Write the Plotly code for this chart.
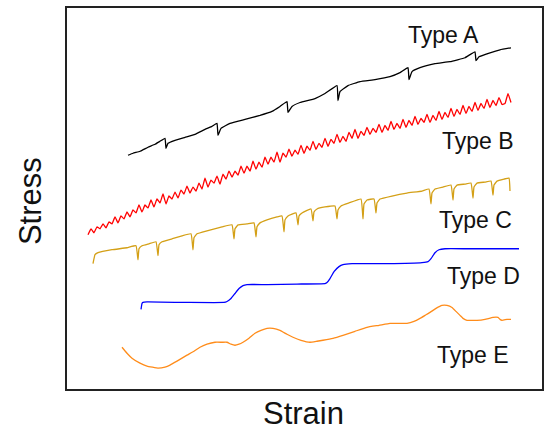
import plotly.graph_objects as go

# Schematic stress-strain curves (arbitrary units, no tick values on the figure)

# Type A - rising curve with occasional sharp drops
a_strain = [61, 66, 73, 81, 88, 93, 98, 99, 101, 108, 118, 128, 138, 145, 150, 151, 154, 163,
            178, 193, 205, 213, 220, 221, 225, 233, 248, 258, 270, 271, 273, 281, 293, 308,
            323, 333, 341, 342, 345, 353, 368, 383, 398, 408, 409, 412, 423, 433, 444]
a_stress = [235, 237, 239, 243, 246, 249, 252, 242, 247, 250, 253, 256, 261, 264, 267, 255, 262, 267,
            271, 275, 279, 284, 289, 278, 284, 288, 292, 297, 305, 290, 299, 305, 309, 311,
            314, 318, 323, 311, 319, 323, 327, 329, 333, 339, 330, 334, 338, 341, 343]

# Type B - dense zig-zag serrations
b_strain = [21, 24, 27, 30, 33, 36, 39, 42, 45, 48, 51, 54, 57, 60, 63, 66, 69, 72, 75, 78,
            81, 84, 87, 90, 93, 96, 99, 102, 105, 108, 111, 114, 117, 120, 123, 126, 129, 132, 135, 138,
            141, 144, 147, 150, 153, 156, 159, 162, 165, 168, 171, 174, 177, 180, 183, 186, 189, 192, 195, 198,
            201, 204, 207, 210, 213, 216, 219, 222, 225, 228, 231, 234, 237, 240, 243, 246, 249, 252, 255, 258,
            261, 264, 267, 270, 273, 276, 279, 282, 285, 288, 291, 294, 297, 300, 303, 306, 309, 312, 315, 318,
            321, 324, 327, 330, 333, 336, 339, 342, 345, 348, 351, 354, 357, 360, 363, 366, 369, 372, 375, 378,
            381, 384, 387, 390, 393, 396, 399, 402, 405, 408, 411, 414, 417, 420, 423, 426, 429, 432, 435, 438,
            441, 444]
b_stress = [155, 161, 157, 163, 161, 166, 162, 168, 166, 173, 167, 174, 171, 178, 173, 180, 177, 185, 178, 185,
            182, 190, 183, 191, 187, 196, 186, 194, 191, 198, 192, 200, 196, 204, 197, 203, 199, 207, 201, 212,
            203, 210, 207, 214, 206, 216, 211, 219, 213, 219, 215, 224, 217, 224, 219, 229, 221, 228, 223, 233,
            226, 233, 228, 238, 228, 237, 233, 241, 234, 240, 236, 245, 237, 244, 240, 249, 241, 247, 243, 252,
            244, 251, 247, 256, 248, 254, 249, 258, 252, 261, 252, 259, 255, 263, 256, 262, 258, 266, 258, 265,
            260, 269, 261, 267, 262, 271, 263, 270, 265, 274, 266, 272, 268, 276, 268, 275, 270, 279, 271, 278,
            273, 282, 274, 281, 276, 285, 277, 284, 279, 288, 280, 287, 282, 291, 283, 290, 285, 293, 286, 287,
            297, 288]

# Type C - smooth rise interrupted by downward spikes
c_strain = [26, 28, 31, 45, 60, 69, 71, 72, 75, 82, 89, 91, 92, 95, 105, 115, 124, 126, 127, 130,
            140, 155, 165, 167, 168, 171, 180, 187, 189, 190, 193, 200, 210, 215, 217, 218, 221, 229, 231, 232,
            235, 244, 246, 247, 250, 258, 268, 270, 271, 274, 282, 294, 296, 297, 300, 307, 309, 310, 313, 325,
            340, 355, 362, 364, 365, 368, 376, 384, 386, 387, 390, 398, 404, 406, 407, 410, 418, 424, 426, 427,
            430, 437, 442, 443]
c_stress = [126, 135, 137, 140, 142, 144, 130, 141, 144, 146, 148, 134, 145, 148, 151, 154, 156, 140, 152, 156,
            159, 163, 165, 151, 161, 165, 166, 167, 153, 163, 167, 170, 173, 174, 158, 170, 174, 177, 165, 174,
            177, 181, 169, 178, 181, 183, 184, 171, 180, 184, 187, 191, 171, 186, 190, 191, 177, 187, 191, 194,
            197, 199, 201, 186, 197, 201, 203, 205, 190, 201, 205, 206, 207, 192, 203, 207, 208, 209, 195, 205,
            209, 211, 212, 199]

# Type D - staircase
d_strain = [74, 75, 76, 80, 120, 157, 160, 164, 168, 172, 176, 180, 200, 230, 258, 260, 263, 267, 272, 276,
            285, 320, 355, 361, 364, 368, 372, 378, 400, 430, 452]
d_stress = [80, 86, 87, 87.5, 87, 87, 88, 91, 96, 101, 104, 105, 105, 105.5, 106, 107, 111, 118, 123, 125,
            126, 126, 127, 128, 131, 137, 140, 141, 141, 141, 141]

# Type E - slow waves
e_strain = [55, 60, 65, 73, 80, 91, 98, 103, 110, 120, 127, 133, 140, 148, 155, 160, 164, 168, 172, 176,
            182, 188, 194, 200, 206, 213, 220, 226, 234, 243, 250, 256, 266, 276, 288, 300, 312, 323, 332, 340,
            347, 353, 358, 363, 369, 375, 380, 385, 389, 393, 396, 400, 405, 410, 418, 426, 431, 433, 435, 440,
            444]
e_stress = [42, 36, 31, 26, 23, 21, 22, 24, 28, 34, 38, 42, 45, 47, 47, 47, 45, 44, 45, 47,
            51, 56, 59, 61, 61, 59, 55, 52, 49, 47, 48, 49, 51, 54, 58, 62, 64, 66, 66, 66,
            68, 71, 74, 77, 81, 84, 84, 82, 78, 74, 71, 69, 69, 69, 70, 72, 72, 70, 69, 70,
            70]

series = [
    ("Type A", a_strain, a_stress, "#000000", 376, 356),
    ("Type B", b_strain, b_stress, "#ff0000", 411, 249),
    ("Type C", c_strain, c_stress, "#d4a017", 408, 170),
    ("Type D", d_strain, d_stress, "#0000ff", 416, 114),
    ("Type E", e_strain, e_stress, "#ff8c1a", 406, 34),
]

fig = go.Figure()
for name, xs, ys, color, lx, ly in series:
    fig.add_trace(go.Scatter(x=xs, y=ys, mode='lines', name=name,
                             line=dict(color=color, width=1.3, shape='spline', smoothing=0.3)))
    fig.add_annotation(x=lx, y=ly, text=name, showarrow=False,
                       xanchor='center', yanchor='middle',
                       font=dict(size=23, color='#111111'))

fig.add_annotation(x=-0.078, y=0.493, xref='paper', yref='paper', text='Stress',
                   xanchor='center', yanchor='middle',
                   textangle=-90, showarrow=False, font=dict(size=31, color='#111111'))
fig.add_annotation(x=0.497, y=-0.063, xref='paper', yref='paper', text='Strain',
                   xanchor='center', yanchor='middle',
                   showarrow=False, font=dict(size=31, color='#111111'))

fig.update_xaxes(range=[0, 475], showticklabels=False, ticks='', showgrid=False, zeroline=False,
                 showline=True, mirror=True, linecolor='#222222', linewidth=1.5)
fig.update_yaxes(range=[0, 383], showticklabels=False, ticks='', showgrid=False, zeroline=False,
                 showline=True, mirror=True, linecolor='#222222', linewidth=1.5)

fig.update_layout(width=550, height=440, showlegend=False,
                  margin=dict(l=67, r=8, t=6, b=51),
                  paper_bgcolor='white', plot_bgcolor='white',
                  font=dict(family='Liberation Sans, Arial, sans-serif'))

# page body has a default 8px margin; drop it so the 550x440 figure fills the window
fig.write_html("out.html", config={'displayModeBar': False},
               post_script="document.body.style.margin='0';")
